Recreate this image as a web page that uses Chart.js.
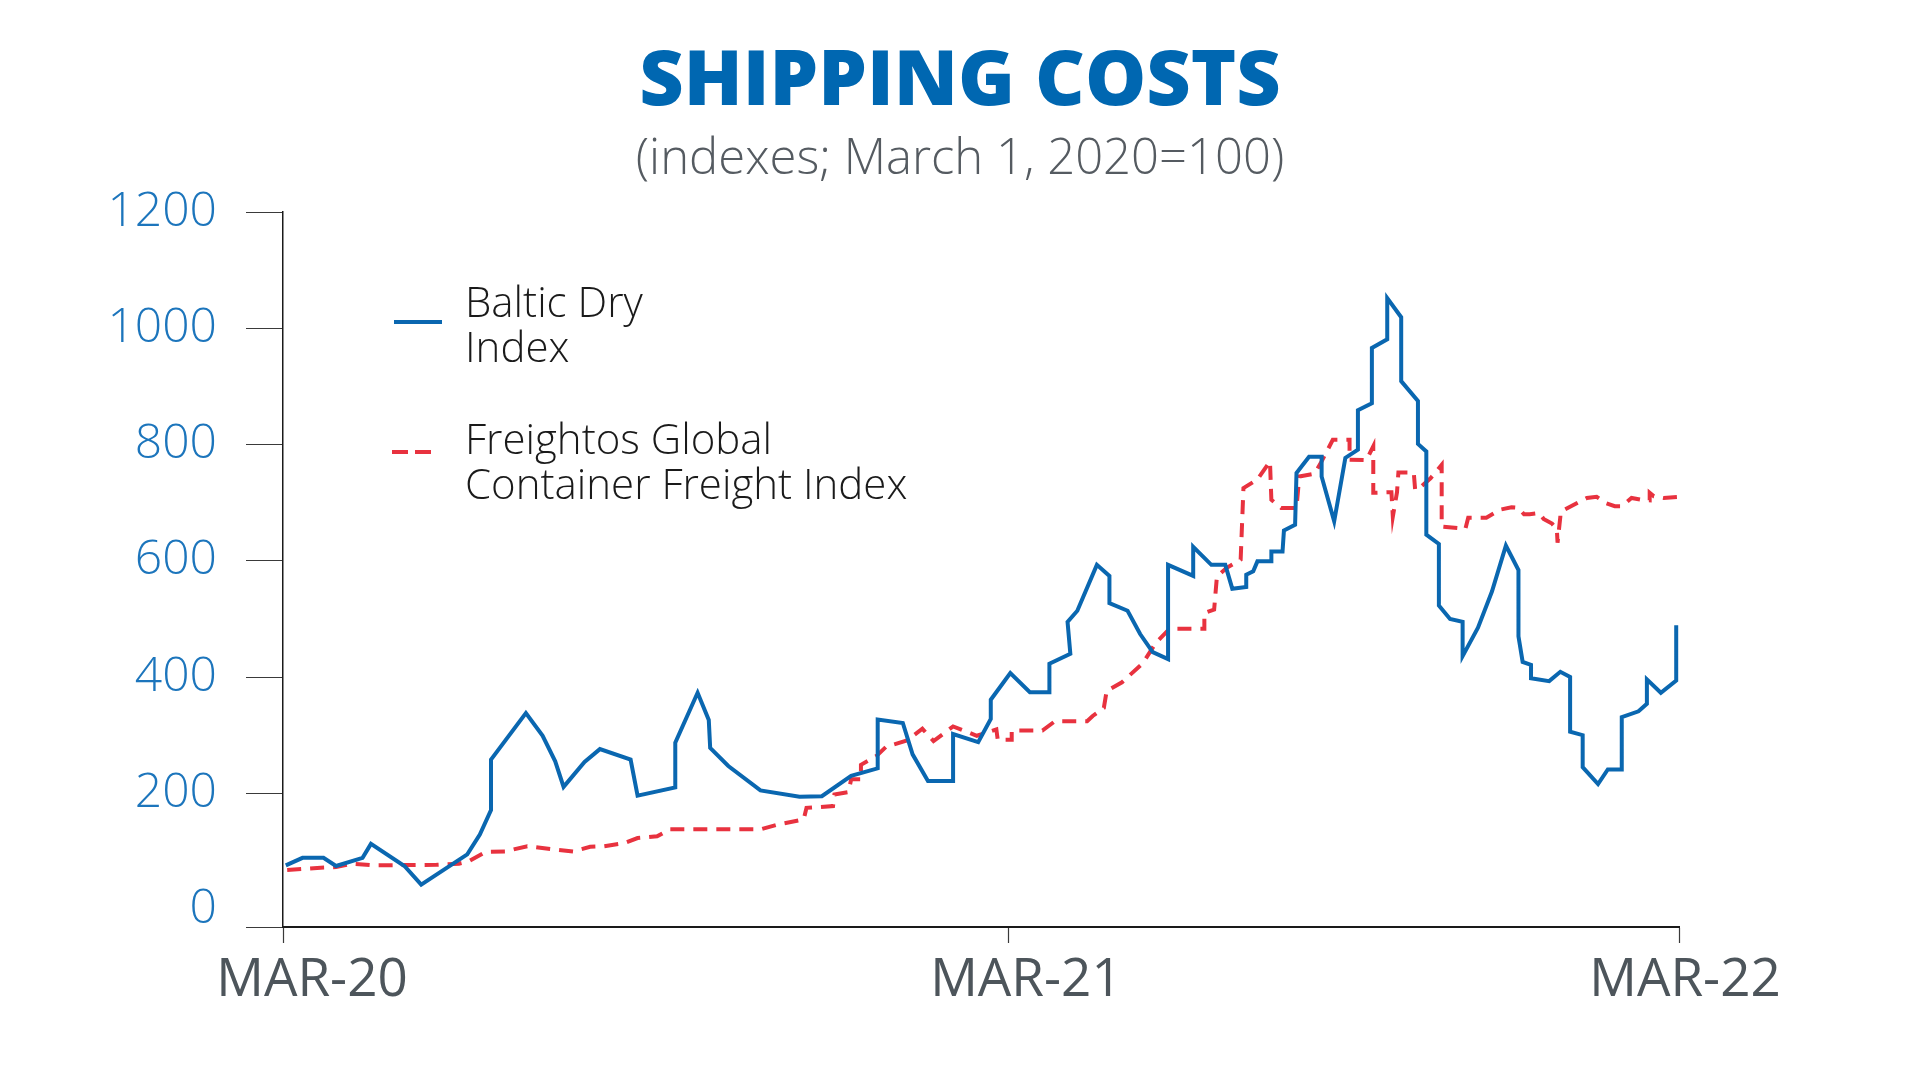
<!DOCTYPE html>
<html>
<head>
<meta charset="utf-8">
<title>Shipping costs</title>
<script src="https://cdn.jsdelivr.net/npm/chart.js@4.4.1/dist/chart.umd.min.js"></script>
<style>
    html, body { margin: 0; padding: 0; background: #fff; }
    #wrap { width: 1920px; height: 1080px; }
</style>
</head>
<body>
<div id="wrap"><canvas id="myChart" width="1920" height="1080" role="img" aria-label="Shipping costs chart"></canvas></div>
<script>
// x position = observation index along the axis (MAR-20 = 0, MAR-21 = 52, MAR-22 = 100)
var xTickPos = [0, 52, 100];
var xTickLabels = ["MAR-20", "MAR-21", "MAR-22"];
var yTickValues = [0, 200, 400, 600, 800, 1000, 1200];
var yMin = -30, yMax = 1200;

var seriesNames = [["Baltic Dry", "Index"], ["Freightos Global", "Container Freight Index"]];

// Baltic Dry Index
var balticObs = [0.2, 1.4, 2.9, 3.8, 5.7, 6.3, 8.7, 9.9, 13.2, 14.1,
    14.9, 14.9, 17.4, 18.6, 19.5, 20.1, 21.6, 22.7, 24.9, 25.4,
    28.1, 28.1, 29.7, 30.5, 30.6, 31.9, 34.2, 37.0, 38.6, 40.7,
    42.6, 42.6, 44.4, 45.1, 46.2, 48.0, 48.0, 49.8, 50.7, 50.7,
    52.1, 53.5, 54.9, 54.9, 56.4, 56.2, 56.9, 58.3, 59.2, 59.2,
    60.5, 61.4, 62.3, 63.4, 63.4, 65.2, 65.2, 66.5, 67.5, 68.0,
    69.0, 69.0, 69.5, 69.8, 70.8, 70.8, 71.6, 71.7, 72.5, 72.6,
    73.5, 74.4, 74.4, 75.3, 76.1, 77.0, 77.0, 78.0, 78.0, 79.1,
    79.1, 80.1, 80.1, 81.3, 81.3, 81.9, 81.9, 82.8, 82.8, 83.6,
    84.5, 84.5, 85.6, 86.6, 87.6, 88.5, 88.5, 88.8, 89.4, 89.4,
    90.7, 91.5, 92.2, 92.2, 93.1, 93.1, 94.2, 94.9, 95.9, 95.9,
    97.1, 97.7, 97.7, 98.7, 99.8, 99.8];
var balticVal = [76, 89, 89, 75, 89, 113, 75, 43, 95, 129,
    171, 258, 338, 299, 255, 211, 254, 276, 258, 196,
    210, 287, 373, 326, 278, 247, 205, 194, 195, 230,
    243, 327, 321, 267, 221, 221, 302, 288, 328, 361,
    407, 374, 374, 423, 440, 495, 514, 593, 574, 527,
    514, 474, 443, 431, 593, 574, 624, 593, 593, 552,
    555, 576, 582, 599, 599, 616, 616, 652, 662, 751,
    779, 779, 745, 668, 777, 791, 859, 871, 966, 981,
    1052, 1019, 909, 875, 801, 788, 645, 629, 523, 500,
    495, 436, 485, 547, 626, 584, 470, 426, 421, 398,
    393, 409, 400, 306, 300, 245, 216, 241, 241, 331,
    341, 354, 396, 373, 394, 489];

// Freightos Global Container Freight Index
var freightObs = [0.3, 2.7, 3.8, 4.9, 6.5, 11.0, 12.6, 13.3, 14.5, 15.9,
    17.5, 19.2, 20.8, 22.0, 23.0, 24.4, 25.4, 26.8, 27.7, 34.2,
    35.4, 37.3, 37.5, 39.4, 39.5, 40.5, 40.7, 41.4, 41.4, 42.5,
    43.2, 44.7, 45.8, 46.6, 48.0, 49.7, 51.1, 51.2, 52.2, 52.2,
    54.4, 55.3, 57.6, 58.0, 58.8, 59.0, 60.1, 61.6, 62.5, 63.5,
    66.0, 66.0, 66.7, 66.9, 67.6, 68.6, 68.8, 69.8, 70.7, 70.8,
    71.5, 72.6, 72.8, 73.9, 74.4, 75.2, 76.4, 76.4, 77.6, 78.1,
    78.1, 79.4, 79.5, 79.8, 79.9, 81.0, 81.1, 81.4, 82.2, 83.0,
    83.0, 84.7, 84.9, 86.2, 87.2, 88.0, 88.5, 88.9, 89.3, 90.0,
    90.3, 90.9, 91.25, 91.3, 91.5, 91.5, 91.8, 93.4, 94.1, 94.8,
    95.4, 95.9, 96.6, 97.3, 97.9, 97.9, 98.2, 98.9, 100.0];
var freightVal = [68, 72, 73, 79, 76, 77, 79, 83, 99, 100,
    109, 104, 100, 108, 109, 114, 123, 126, 138, 138,
    146, 155, 175, 178, 198, 202, 224, 224, 249, 264,
    280, 291, 311, 290, 315, 299, 310, 292, 292, 308,
    308, 324, 324, 333, 347, 376, 391, 424, 458, 483,
    483, 510, 516, 573, 588, 602, 725, 740, 771, 705,
    691, 691, 745, 750, 771, 808, 808, 774, 773, 797,
    717, 718, 676, 718, 752, 752, 722, 725, 742, 765,
    659, 655, 674, 674, 688, 692, 691, 680, 680, 682,
    672, 664, 654, 631, 676, 682, 688, 708, 710, 699,
    694, 694, 708, 705, 704, 717, 711, 708, 710];

var blue = "#0a67b0",
    red = "#e8323f",
    axisColor = "#1a1a1a",
    tickColor = "#3a3a3a";

// small horizontal nudge of each month label, in pixels
var xLabelNudge = [12, 0, -11];

function toPoints(xs, ys) {
    var pts = [];
    for (var i = 0; i < xs.length; i++) {
        pts.push({ x: xs[i], y: ys[i] });
    }
    return pts;
}

//shift the month labels a little, as in the original layout
var nudgeLabels = {
    id: "nudgeLabels",
    beforeDraw: function (chart) {
        var items = chart.scales.x.getLabelItems(chart.chartArea);
        items.forEach(function (it, i) {
            it.options.translation[0] += xLabelNudge[i] || 0;
        });
    }
};

//legend drawn in the upper left of the plot, two lines per entry
var sideLegend = {
    id: "sideLegend",
    afterDraw: function (chart) {
        var c = chart.ctx,
            left = chart.chartArea.left,
            top = chart.chartArea.top;
        c.save();
        c.lineWidth = 4;
        c.lineCap = "butt";

        c.strokeStyle = blue;
        c.setLineDash([]);
        c.beginPath();
        c.moveTo(left + 111, top + 110);
        c.lineTo(left + 159, top + 110);
        c.stroke();

        c.strokeStyle = red;
        c.setLineDash([16, 7]);
        c.beginPath();
        c.moveTo(left + 109, top + 240);
        c.lineTo(left + 149, top + 240);
        c.stroke();

        c.setLineDash([]);
        c.fillStyle = "#1a1a1a";
        c.font = "300 42px 'Open Sans'";
        c.textAlign = "left";
        c.textBaseline = "alphabetic";
        c.fillText(seriesNames[0][0], left + 182, top + 105);
        c.fillText(seriesNames[0][1], left + 182, top + 150);
        c.fillText(seriesNames[1][0], left + 182, top + 242);
        c.fillText(seriesNames[1][1], left + 182, top + 287);
        c.restore();
    }
};

var ctx = document.getElementById("myChart");
var myChart = new Chart(ctx, {
    type: "line",
    data: {
        datasets: [{
            label: seriesNames[0].join(" "),
            data: toPoints(balticObs, balticVal),
            borderColor: blue,
            borderWidth: 4,
            pointRadius: 0,
            tension: 0,
            fill: false
        }, {
            label: seriesNames[1].join(" "),
            data: toPoints(freightObs, freightVal),
            borderColor: red,
            borderWidth: 4,
            borderDash: [14, 9],
            pointRadius: 0,
            tension: 0,
            fill: false
        }]
    },
    options: {
        responsive: false,
        animation: false,
        layout: { padding: 0 },
        scales: {
            x: {
                type: "linear",
                min: xTickPos[0],
                max: xTickPos[xTickPos.length - 1],
                afterBuildTicks: function (axis) {
                    axis.ticks = xTickPos.map(function (v) { return { value: v }; });
                },
                afterFit: function (axis) { axis.height = 153; },
                ticks: {
                    autoSkip: false,
                    maxRotation: 0,
                    labelOffset: 17,
                    padding: 6,
                    color: "#4d555b",
                    font: { family: "'Open Sans'", size: 53, weight: 400, lineHeight: 1.2 },
                    callback: function (v, i) { return xTickLabels[i]; }
                },
                grid: { drawOnChartArea: false, tickLength: 16, tickWidth: 1.2, tickColor: tickColor },
                border: { color: axisColor, width: 2 }
            },
            y: {
                min: yMin,
                max: yMax,
                afterBuildTicks: function (axis) {
                    axis.ticks = [yMin].concat(yTickValues).map(function (v) { return { value: v }; });
                },
                afterFit: function (axis) { axis.width = 283; },
                ticks: {
                    autoSkip: false,
                    padding: 29,
                    color: "#1c75bc",
                    font: { family: "'Open Sans'", size: 48, weight: 300, lineHeight: 1.2 },
                    callback: function (v) { return v === yMin ? "" : String(v); }
                },
                grid: {
                    drawOnChartArea: false,
                    tickLength: 37,
                    tickWidth: 1.2,
                    tickColor: function (c) {
                        return c.tick && c.tick.value === 0 ? "rgba(0,0,0,0)" : tickColor;
                    }
                },
                border: { color: axisColor, width: 1.5 }
            },
            //empty right margin so the titles stay centred on the page
            margin: {
                type: "linear",
                position: "right",
                afterFit: function (axis) { axis.width = 241; },
                ticks: { display: false },
                grid: { display: false },
                border: { display: false }
            }
        },
        plugins: {
            legend: { display: false },
            tooltip: { enabled: false },
            title: {
                display: true,
                text: "SHIPPING COSTS",
                color: "#0067b1",
                font: { family: "'Open Sans'", size: 77, weight: 800, lineHeight: 1 },
                padding: { top: 45, bottom: 0 }
            },
            subtitle: {
                display: true,
                text: "(indexes; March 1, 2020=100)",
                color: "#555b61",
                font: { family: "'Open Sans'", size: 49, weight: 300, lineHeight: 1 },
                padding: { top: 14, bottom: 27 }
            }
        }
    },
    plugins: [nudgeLabels, sideLegend]
});
</script>
</body>
</html>
